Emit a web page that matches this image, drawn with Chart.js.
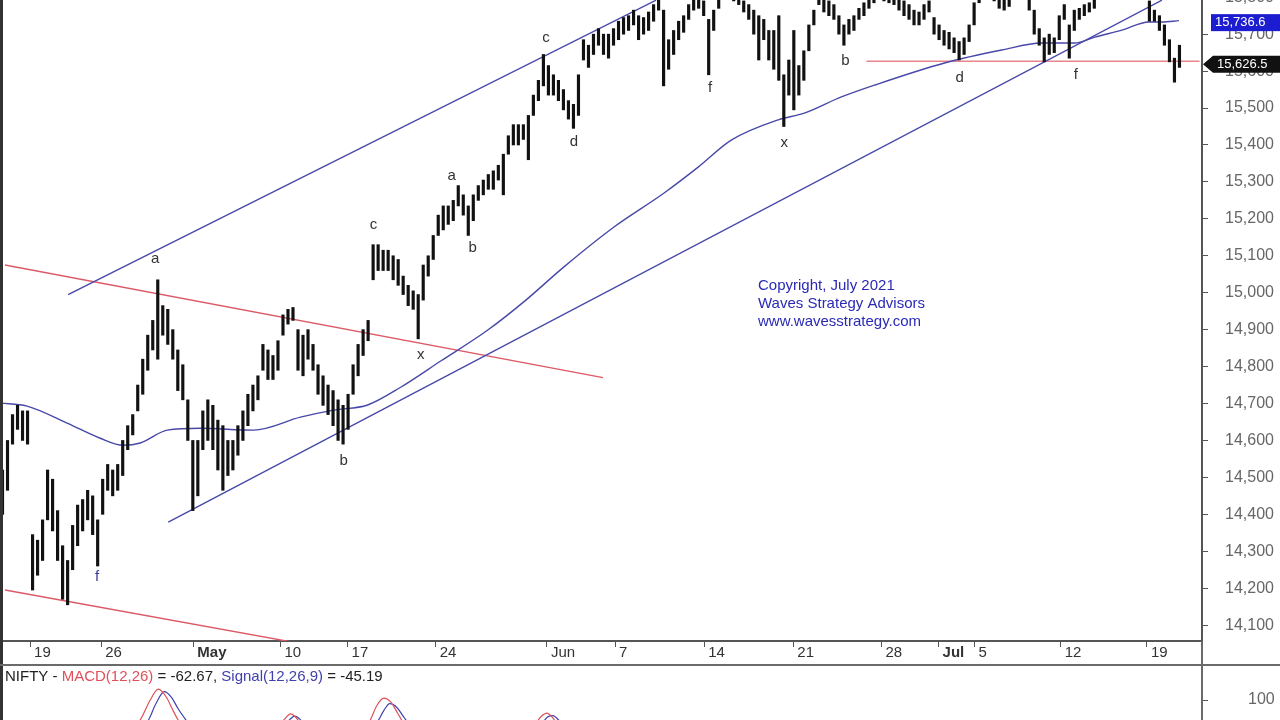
<!DOCTYPE html>
<html>
<head>
<meta charset="utf-8">
<script src="https://cdn.jsdelivr.net/npm/chart.js@4.4.0/dist/chart.umd.min.js"></script>
<style>
  html, body { margin: 0; padding: 0; background: #fff; }
  #wrap { position: relative; width: 1280px; height: 720px; overflow: hidden; background: #fff; }
  #main { position: absolute; left: 0; top: 0; }
  #macd { position: absolute; left: 0; top: 665px; }
  .rule { position: absolute; background: #6a6a6a; }
</style>
</head>
<body>
<div id="wrap">
  <canvas id="main" width="1280" height="665"></canvas>
  <canvas id="macd" width="1280" height="55"></canvas>
  <div class="rule" style="left:0;top:0;width:3px;height:720px;background:#333"></div>
  <div class="rule" style="left:1201px;top:641px;width:2px;height:79px"></div>
  <div class="rule" style="left:0;top:664px;width:1280px;height:2px"></div>
</div>
<script>
// NIFTY hourly bars, mid April - 22 July 2021 (one entry per bar, oldest first)
const barHigh = [
  14520, 14600, 14670, 14695, 14680, 14680,
  14345, 14330, 14385, 14520, 14495, 14410, 14315, 14275, 14370, 14425,
  14440, 14465, 14450, 14385, 14495, 14535, 14520, 14535, 14600, 14640,
  14670, 14750, 14820, 14885, 14925, 15035, 14965, 14955, 14900, 14845,
  14805, 14710, 14600, 14600, 14680, 14710, 14695, 14655, 14640, 14600,
  14600, 14640, 14680, 14725, 14750, 14775, 14860, 14845, 14830, 14870,
  14940, 14955, 14960, 14900, 14885, 14900, 14860, 14805, 14775, 14750,
  14735, 14710, 14695, 14725, 14805, 14860, 14900, 14925, 15130, 15130,
  15115, 15115, 15100, 15090, 15045, 15020, 15005, 14995, 15075, 15100,
  15155, 15210, 15235, 15235, 15250, 15290, 15265, 15235, 15265, 15290,
  15305, 15320, 15330, 15345, 15375, 15425, 15455, 15455, 15455, 15480,
  15535, 15575, 15645, 15615, 15590, 15575, 15550, 15520, 15510, 15590,
  15685, 15670, 15700, 15715, 15700, 15700, 15715, 15735, 15745, 15750,
  15765, 15750, 15745, 15760, 15780, 15800, 15765, 15685, 15710, 15735,
  15750, 15780, 15805, 15805, 15790, 15740, 15765, 15805, 15845, 15845,
  15835, 15815, 15790, 15780, 15765, 15750, 15740, 15710, 15710, 15750,
  15590, 15630, 15710, 15615, 15655, 15725, 15765, 15820, 15805, 15790,
  15780, 15750, 15725, 15740, 15750, 15770, 15785, 15805, 15820, 15835,
  15835, 15825, 15820, 15805, 15790, 15780, 15765, 15760, 15780, 15790,
  15745, 15725, 15710, 15705, 15690, 15680, 15690, 15725, 15785, 15825,
  15835, 15835, 15820, 15800, 15800, 15805, 15835, 15835, 15825, 15805,
  15765, 15715, 15690, 15700, 15690, 15750, 15780, 15725, 15765, 15770,
  15780, 15785, 15800, 15850, 15875, 15900, 15915, 15905, 15890, 15880,
  15870, 15860, 15850, 15790, 15765, 15750, 15725, 15685, 15635, 15670
];
const barLow = [
  14400, 14465, 14590, 14630, 14600, 14590,
  14195, 14235, 14275, 14385, 14355, 14275, 14170, 14155, 14250, 14315,
  14355, 14385, 14345, 14260, 14400, 14465, 14450, 14465, 14505, 14575,
  14615, 14680, 14725, 14790, 14845, 14820, 14885, 14860, 14820, 14735,
  14710, 14600, 14410, 14450, 14575, 14600, 14575, 14520, 14465, 14505,
  14520, 14560, 14600, 14640, 14680, 14710, 14790, 14765, 14765, 14790,
  14885, 14915, 14925, 14790, 14775, 14820, 14790, 14725, 14695, 14670,
  14640, 14600, 14590, 14630, 14725, 14775, 14830, 14870, 15035, 15060,
  15060, 15060, 15035, 15020, 14995, 14965, 14955, 14875, 14980, 15045,
  15090, 15155, 15170, 15185, 15195, 15235, 15210, 15155, 15195, 15250,
  15265, 15280, 15280, 15305, 15265, 15375, 15400, 15400, 15415, 15360,
  15480, 15520, 15560, 15535, 15535, 15520, 15495, 15470, 15445, 15480,
  15630, 15610, 15645, 15670, 15645, 15635, 15670, 15685, 15700, 15710,
  15725, 15685, 15700, 15710, 15735, 15765, 15560, 15605, 15645, 15685,
  15705, 15740, 15765, 15770, 15750, 15590, 15710, 15770, 15805, 15805,
  15790, 15780, 15760, 15740, 15700, 15630, 15685, 15630, 15605, 15575,
  15450, 15535, 15495, 15535, 15575, 15655, 15725, 15780, 15760, 15750,
  15740, 15700, 15670, 15700, 15710, 15740, 15750, 15770, 15785, 15800,
  15790, 15785, 15780, 15765, 15750, 15740, 15725, 15725, 15740, 15760,
  15700, 15685, 15670, 15660, 15650, 15630, 15645, 15680, 15725, 15785,
  15800, 15805, 15790, 15770, 15765, 15775, 15800, 15805, 15800, 15765,
  15700, 15670, 15625, 15645, 15650, 15685, 15740, 15635, 15710, 15740,
  15750, 15760, 15770, 15805, 15830, 15855, 15870, 15860, 15845, 15835,
  15825, 15815, 15800, 15735, 15735, 15710, 15670, 15625, 15570, 15610
];

// moving average (bar index, value)
const maX = [-0.5, 4.9, 12.9, 19.5, 24.1, 27.5, 32.9, 39.5, 50.1, 59.5, 66.1, 72.9, 79.5, 87.5,
  96.9, 104.5, 112.1, 122.1, 132.1, 138.9, 145.5, 154.9, 160.1, 167.5, 174.1, 188.1, 199.5,
  207.5, 214.1, 218.1, 223.5, 228.9, 231.5, 234.9];
const maY = [14701, 14693, 14647, 14606, 14587, 14593, 14628, 14633, 14628, 14663, 14682, 14696, 14744, 14815,
  14899, 14980, 15070, 15178, 15270, 15340, 15413, 15468, 15486, 15530, 15562, 15622, 15657,
  15676, 15676, 15692, 15711, 15733, 15733, 15736.6];

// drawn trend lines (start / end in bar index and price)
const upperChannelX = [13.1, 130.5], upperChannelY = [14995, 15792];
const lowerChannelX = [33.1, 231.5], lowerChannelY = [14379, 15792];
const redFallX = [0.5, 119.9], redFallY = [15075, 14770];
const redBaseX = [0.5, 57.5], redBaseY = [14195, 14055];
const supportX = [172.5, 239], supportY = [15626.5, 15626.5];

// wave counts
const waveText = ['a', 'f', 'b', 'c', 'x', 'a', 'b', 'c', 'd', 'f', 'x', 'b', 'd', 'f'];
const waveX = [30.5, 18.9, 68.1, 74.1, 83.5, 89.7, 93.9, 108.5, 114.1, 141.3, 156.1, 168.3, 191.1, 214.3];
const waveY = [15091, 14230, 14544, 15183, 14831, 15316, 15121, 15690, 15408, 15555, 15405, 15627, 15581, 15589];

// axis ticks
const dateLabels = ['19', '26', 'May', '10', '17', '24', 'Jun', '7', '14', '21', '28', 'Jul', '5', '12', '19'];
const datePos = [5.5, 19.7, 38.1, 55.5, 68.9, 86.5, 108.7, 122.3, 140.1, 157.9, 175.5, 186.9, 194.1, 211.3, 228.5];
const priceTicks = [14100, 14200, 14300, 14400, 14500, 14600, 14700, 14800, 14900, 15000,
  15100, 15200, 15300, 15400, 15500, 15600, 15700, 15800];
const lastClose = 15626.5;

// MACD panel
const macdX = [0, 24.5, 27.5, 29.5, 31.1, 32.7, 33.9, 35.1, 37.5, 45, 55.1, 56.3, 57.5, 58.7, 59.9, 66,
  73.1, 74.7, 76.1, 77.5, 78.9, 80.3, 93, 106.1, 107.5, 108.7, 109.9, 111.1, 125, 160, 200, 235];
const macdY = [20, 40, 67, 100, 118, 105, 85, 66, 35, 30, 55, 68, 77, 70, 55, 40,
  62, 90, 103, 97, 78, 60, 35, 58, 72, 78, 70, 56, 20, -10, -30, -62.67];
const signalX = [0, 26, 29.1, 30.7, 32.3, 33.7, 35.1, 36.7, 39.1, 47, 56.1, 57.3, 58.3, 59.5, 60.7, 68,
  74.7, 76.1, 77.3, 78.7, 80.1, 81.5, 95, 107.5, 108.9, 109.9, 111.1, 112.5, 128, 162, 200, 235];
const signalY = [25, 35, 66, 95, 114, 105, 85, 66, 40, 32, 55, 67, 73, 67, 52, 40,
  62, 82, 94, 88, 72, 58, 38, 60, 72, 74, 66, 52, 25, 0, -20, -45.19];
const macdTicks = [100];

const FONT = '"Liberation Sans", Arial, sans-serif';
Chart.defaults.font.family = FONT;

const BLUE = '#4848a8';
const RED = '#dc5a66';

function lineSet(xs, ys, color, width, smooth) {
    return {
        type: 'line',
        data: xs.map((x, i) => ({ x: x, y: ys[i] })),
        borderColor: color,
        borderWidth: width,
        pointRadius: 0,
        fill: false,
        tension: smooth ? 0.4 : 0,
        cubicInterpolationMode: smooth ? 'monotone' : 'default',
        order: 2
    };
}

// keep label padding from shrinking the plot area
function noPad(s) {
    s.paddingTop = 0;
    s.paddingBottom = 0;
    s.paddingLeft = 0;
    s.paddingRight = 0;
}

const overlay = {
    id: 'overlay',
    afterDatasetsDraw(chart) {
        const { ctx, scales: { x, y } } = chart;
        ctx.save();
        ctx.font = '15px ' + FONT;
        ctx.textAlign = 'center';
        ctx.textBaseline = 'middle';
        waveText.forEach((t, i) => {
            ctx.fillStyle = i === 1 ? '#3a3a9a' : '#333';
            ctx.fillText(t, x.getPixelForValue(waveX[i]), y.getPixelForValue(waveY[i]));
        });
        ctx.fillStyle = '#2a2ab5';
        ctx.textAlign = 'left';
        ['Copyright, July 2021', 'Waves Strategy Advisors', 'www.wavesstrategy.com']
            .forEach((s, i) => ctx.fillText(s, 758, 286 + i * 18));
        ctx.restore();
    },
    afterDraw(chart) {
        const { ctx, scales: { y } } = chart;
        const fmt = v => v.toLocaleString('en-US', { minimumFractionDigits: 1 });
        ctx.save();
        ctx.font = '13px ' + FONT;
        ctx.textBaseline = 'middle';
        // moving average tag
        const ym = y.getPixelForValue(maY[maY.length - 1]) + 2;
        ctx.fillStyle = '#1c1cd0';
        ctx.fillRect(1211, ym - 8.5, 69, 17);
        ctx.fillStyle = '#fff';
        ctx.fillText(fmt(maY[maY.length - 1]), 1215, ym);
        // last close tag
        const yc = y.getPixelForValue(lastClose) + 3;
        ctx.fillStyle = '#111';
        ctx.beginPath();
        ctx.moveTo(1203, yc);
        ctx.lineTo(1213, yc - 8.5);
        ctx.lineTo(1280, yc - 8.5);
        ctx.lineTo(1280, yc + 8.5);
        ctx.lineTo(1213, yc + 8.5);
        ctx.closePath();
        ctx.fill();
        ctx.fillStyle = '#fff';
        ctx.fillText(fmt(lastClose), 1217, yc);
        ctx.restore();
    }
};

new Chart(document.getElementById('main'), {
    type: 'bar',
    data: {
        datasets: [
            {
                type: 'bar',
                data: barHigh.map((h, i) => ({ x: i, y: [barLow[i], h] })),
                backgroundColor: '#111',
                barThickness: 2.5,
                order: 1
            },
            lineSet(maX, maY, BLUE, 1.4, true),
            lineSet(upperChannelX, upperChannelY, BLUE, 1.4),
            lineSet(lowerChannelX, lowerChannelY, BLUE, 1.4),
            lineSet(redFallX, redFallY, RED, 1.4),
            lineSet(redBaseX, redBaseY, RED, 1.4),
            lineSet(supportX, supportY, '#e9848c', 1.4)
        ]
    },
    options: {
        responsive: false,
        animation: false,
        devicePixelRatio: 1,
        layout: { padding: 0, autoPadding: false },
        plugins: { legend: { display: false }, tooltip: { enabled: false } },
        scales: {
            x: {
                type: 'linear',
                min: -0.5,
                max: 239.5,
                offset: false,
                grid: { drawOnChartArea: false, tickLength: 6, color: '#555', offset: false },
                border: { color: '#555', width: 2 },
                ticks: {
                    autoSkip: false,
                    maxRotation: 0,
                    align: 'start',
                    labelOffset: 4,
                    padding: -3,
                    color: '#333',
                    font: ctx => ({
                        size: 15,
                        weight: (ctx.tick && (ctx.tick.label === 'May' || ctx.tick.label === 'Jul')) ? 'bold' : 'normal'
                    }),
                    callback: (v, i) => dateLabels[i]
                },
                afterBuildTicks: s => { s.ticks = datePos.map(v => ({ value: v })); },
                afterFit: s => { s.height = 24; noPad(s); }
            },
            y: {
                position: 'right',
                min: 14057,
                max: 15792.5,
                grid: { drawOnChartArea: false, tickLength: 6, color: '#555' },
                border: { color: '#555', width: 2 },
                ticks: {
                    color: '#666',
                    font: { size: 16 },
                    crossAlign: 'near',
                    padding: 17,
                    callback: v => v.toLocaleString('en-US')
                },
                afterBuildTicks: s => { s.ticks = priceTicks.map(v => ({ value: v })); },
                afterFit: s => { s.width = 78; noPad(s); }
            }
        }
    },
    plugins: [overlay]
});

const macdTitle = {
    id: 'macdTitle',
    afterDraw(chart) {
        const ctx = chart.ctx;
        const parts = [
            ['NIFTY - ', '#222'],
            ['MACD(12,26)', '#e0505a'],
            [' = ' + macdY[macdY.length - 1] + ', ', '#222'],
            ['Signal(12,26,9)', '#4040b0'],
            [' = ' + signalY[signalY.length - 1], '#222']
        ];
        ctx.save();
        ctx.font = '15px ' + FONT;
        ctx.textBaseline = 'middle';
        let x = 5;
        parts.forEach(([t, c]) => {
            ctx.fillStyle = c;
            ctx.fillText(t, x, 12);
            x += ctx.measureText(t).width;
        });
        ctx.restore();
    }
};

new Chart(document.getElementById('macd'), {
    type: 'line',
    data: {
        datasets: [
            lineSet(macdX, macdY, '#e0505a', 1.2, true),
            lineSet(signalX, signalY, '#4040b0', 1.2, true)
        ]
    },
    options: {
        responsive: false,
        animation: false,
        devicePixelRatio: 1,
        layout: { padding: 0, autoPadding: false },
        plugins: { legend: { display: false }, tooltip: { enabled: false } },
        scales: {
            x: { type: 'linear', min: -0.5, max: 239.5, display: false },
            y: {
                position: 'right',
                min: 66.7,
                max: 158.3,
                grid: { drawOnChartArea: false, tickLength: 6, color: '#555' },
                border: { color: '#555', width: 2 },
                ticks: { color: '#666', font: { size: 16 }, crossAlign: 'near', padding: 40 },
                afterBuildTicks: s => { s.ticks = macdTicks.map(v => ({ value: v })); },
                afterFit: s => { s.width = 78; noPad(s); }
            }
        }
    },
    plugins: [macdTitle]
});
</script>
</body>
</html>
